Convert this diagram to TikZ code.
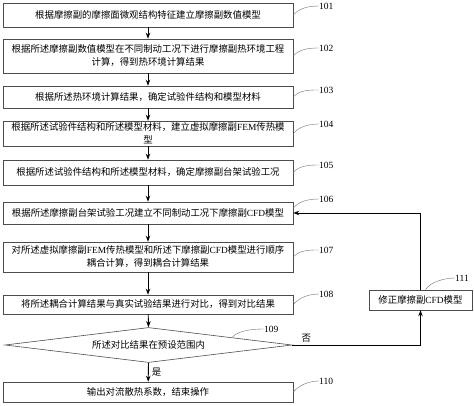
\documentclass[tikz,border=0pt]{standalone}
\usepackage{fontspec}
\setmainfont{Noto Sans CJK SC}
\newfontfamily\numfont{Liberation Serif}
\usetikzlibrary{shapes.geometric,arrows.meta}

\begin{document}
\begin{tikzpicture}[x=1pt,y=-1pt,
  box/.style={draw=black!70,line width=.6pt,minimum width=290,inner sep=0,
    align=center,font=\fontsize{9.4}{13}\selectfont},
  arr/.style={draw=black,line width=.9pt,-{Stealth[length=6pt,width=4.5pt]}},
  lead/.style={draw=black!55,line width=.4pt},
  num/.style={anchor=west,inner sep=0,font=\numfont\fontsize{9.5}{10}\selectfont}]
 \useasboundingbox (0,0) rectangle (474,406);
 % steps
 \node[box,minimum height=24] (s101) at (148,15) {根据摩擦副的摩擦面微观结构特征建立摩擦副数值模型};
 \node[box,minimum height=34] (s102) at (148,56) {根据所述摩擦副数值模型在不同制动工况下进行摩擦副热环境工程\\计算，得到热环境计算结果};
 \node[box,minimum height=22] (s103) at (148,97) {根据所述热环境计算结果，确定试验件结构和模型材料};
 \node[box,minimum height=25] (s104) at (148,133.5) {根据所述试验件结构和所述模型材料，建立虚拟摩擦副{\numfont FEM}传热模\\型};
 \node[box,minimum height=25] (s105) at (148,172.5) {根据所述试验件结构和所述模型材料，确定摩擦副台架试验工况};
 \node[box,minimum height=22] (s106) at (148,213) {根据所述摩擦副台架试验工况建立不同制动工况下摩擦副{\numfont CFD}模型};
 \node[box,minimum height=30] (s107) at (148,257) {对所述虚拟摩擦副{\numfont FEM}传热模型和所述下摩擦副{\numfont CFD}模型进行顺序\\耦合计算，得到耦合计算结果};
 \node[box,minimum height=19] (s108) at (148,304.5) {将所述耦合计算结果与真实试验结果进行对比，得到对比结果};
 \node[diamond,draw=black!70,line width=.6pt,aspect=8,inner sep=0,minimum width=287,minimum height=35,
   font=\fontsize{9.4}{13}\selectfont] (d109) at (148.5,345) {所述对比结果在预设范围内};
 \node[box,minimum height=20] (s110) at (148,392) {输出对流散热系数，结束操作};
 \node[box,minimum width=103,minimum height=20] (s111) at (420.5,300) {修正摩擦副{\numfont CFD}模型};
 % flow
 \draw[arr] (s101) -- (s102);
 \draw[arr] (s102) -- (s103);
 \draw[arr] (s103) -- (s104);
 \draw[arr] (s104) -- (s105);
 \draw[arr] (s105) -- (s106);
 \draw[arr] (s106) -- (s107);
 \draw[arr] (s107) -- (s108);
 \draw[arr] (s108) -- (d109.north);
 \draw[arr] (d109.south) -- node[right,inner sep=3pt,font=\fontsize{9.4}{10}\selectfont] (yes) {是} (s110);
 \draw[arr] (d109.east) -| node[pos=.055,above,inner sep=2pt,font=\fontsize{9.4}{10}\selectfont] (no) {否} (s111.south);
 \draw[arr] (s111.north) |- (s106.east);
 % reference numbers
 \node[num] (n101) at (319,6) {101};
 \node[num] (n102) at (319,48) {102};
 \node[num] (n103) at (319,90) {103};
 \node[num] (n104) at (319,124) {104};
 \node[num] (n105) at (319,165) {105};
 \node[num] (n106) at (319,199) {106};
 \node[num] (n107) at (319,250) {107};
 \node[num] (n108) at (319,294) {108};
 \node[num] (n109) at (264,329) {109};
 \node[num] (n110) at (319,381) {110};
 \node[num] (n111) at (455,278) {111};
 \draw[lead] (s101.east) .. controls +(6,-7) and +(-10,0) .. (n101.west);
 \draw[lead] (s102.east) .. controls +(6,-7) and +(-10,0) .. (n102.west);
 \draw[lead] (s103.east) .. controls +(6,-7) and +(-10,0) .. (n103.west);
 \draw[lead] (s104.east) .. controls +(6,-7) and +(-10,0) .. (n104.west);
 \draw[lead] (s105.east) .. controls +(6,-7) and +(-10,0) .. (n105.west);
 \draw[lead] ([yshift=5pt]s106.east) .. controls +(6,-7) and +(-10,0) .. (n106.west);
 \draw[lead] (s107.east) .. controls +(6,-7) and +(-10,0) .. (n107.west);
 \draw[lead] (s108.east) .. controls +(6,-7) and +(-10,0) .. (n108.west);
 \draw[lead] ([xshift=12pt,yshift=-1pt]d109.north east) .. controls +(6,-7) and +(-10,0) .. (n109.west);
 \draw[lead] (s110.east) .. controls +(6,-7) and +(-10,0) .. (n110.west);
 \draw[lead] ([xshift=5pt]s111.north) .. controls +(5,-8) and +(-10,0) .. (n111.west);
\end{tikzpicture}
\end{document}
